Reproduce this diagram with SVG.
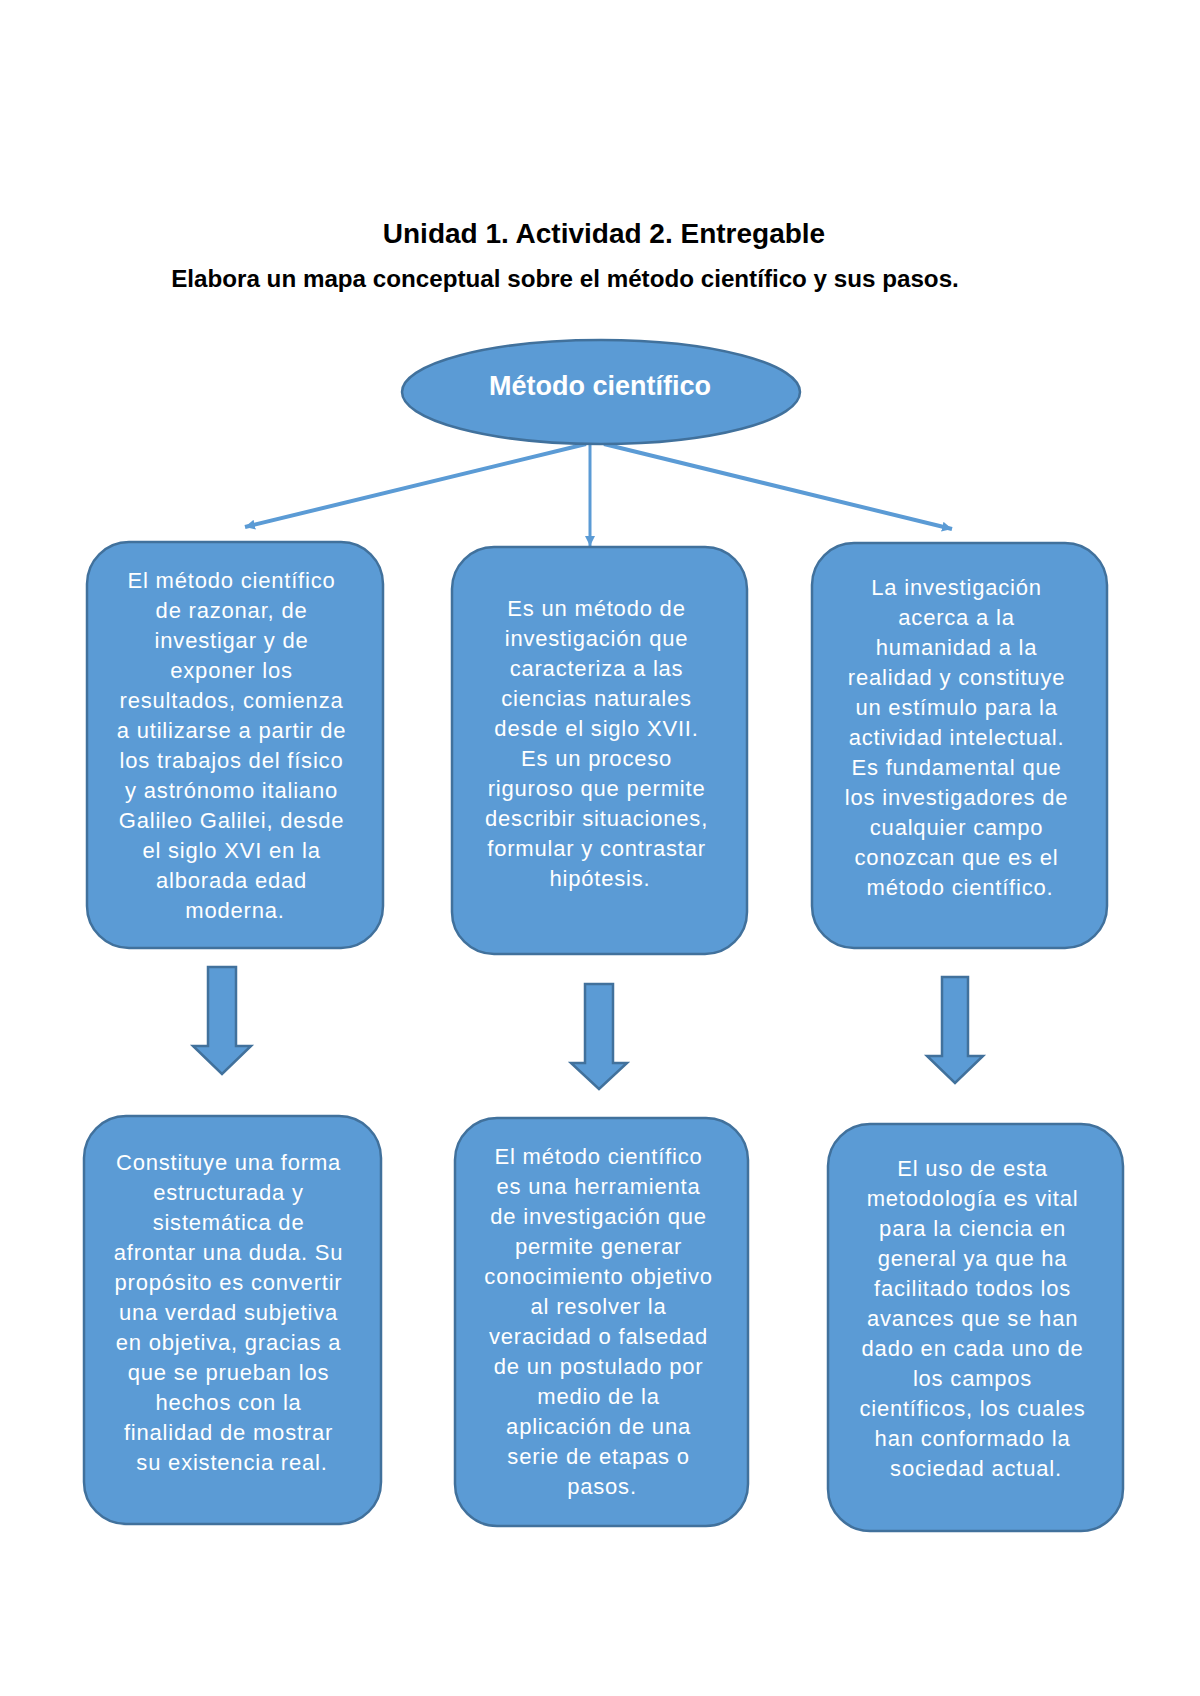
<svg xmlns="http://www.w3.org/2000/svg" width="1200" height="1696" viewBox="0 0 1200 1696">
<style>
.title{font-family:"Liberation Sans",Arial,sans-serif;font-weight:bold;fill:#000;text-anchor:middle}
.shape{fill:#5B9BD5;stroke:#41719C;stroke-width:2.5}
.txt{font-family:"Liberation Sans",Arial,sans-serif;font-size:22px;letter-spacing:0.8px;fill:#fff;text-anchor:middle}
.conn{stroke:#5B9BD5;fill:none}
</style>
<defs>
<marker id="ah" markerWidth="12" markerHeight="12" refX="10" refY="6" orient="auto" markerUnits="userSpaceOnUse">
<path d="M0,1 L10,6 L0,11 Z" fill="#5B9BD5"/>
</marker>
</defs>
<rect width="1200" height="1696" fill="#fff"/>
<g id="header">
<text class="title" x="604" y="243" font-size="28">Unidad 1. Actividad 2. Entregable</text>
<text class="title" x="565" y="287" font-size="24.2">Elabora un mapa conceptual sobre el método científico y sus pasos.</text>
</g>
<g id="connectors">
<line class="conn" x1="586" y1="444" x2="245" y2="527" stroke-width="4" marker-end="url(#ah)"/>
<line class="conn" x1="590" y1="444" x2="590" y2="546" stroke-width="3" marker-end="url(#ah)"/>
<line class="conn" x1="604" y1="444" x2="952" y2="529" stroke-width="4" marker-end="url(#ah)"/>
<path id="arrow1" class="shape" d="M208,967 H236 V1046 H251 L222,1074 L193,1046 H208 Z"/>
<path id="arrow2" class="shape" d="M585,984 H613 V1063 H627 L599,1089 L571,1063 H585 Z"/>
<path id="arrow3" class="shape" d="M942,977 H968 V1056 H983 L955,1083 L927,1056 H942 Z"/>
</g>
<g id="root">
<ellipse class="shape" cx="601" cy="392" rx="199" ry="52"/>
<text class="title" x="600" y="395" font-size="27" style="fill:#fff">Método científico</text>
</g>
<g id="box1">
<rect class="shape" x="87" y="542" width="296" height="406" rx="42" ry="42"/>
<text class="txt">
<tspan x="235" y="588">El método científico</tspan>
<tspan x="235" y="618">de razonar, de</tspan>
<tspan x="235" y="648">investigar y de</tspan>
<tspan x="235" y="678">exponer los</tspan>
<tspan x="235" y="708">resultados, comienza</tspan>
<tspan x="235" y="738">a utilizarse a partir de</tspan>
<tspan x="235" y="768">los trabajos del físico</tspan>
<tspan x="235" y="798">y astrónomo italiano</tspan>
<tspan x="235" y="828">Galileo Galilei, desde</tspan>
<tspan x="235" y="858">el siglo XVI en la</tspan>
<tspan x="235" y="888">alborada edad</tspan>
<tspan x="235" y="918">moderna.</tspan>
</text>
</g>
<g id="box2">
<rect class="shape" x="452" y="547" width="295" height="407" rx="42" ry="42"/>
<text class="txt">
<tspan x="600" y="616">Es un método de</tspan>
<tspan x="600" y="646">investigación que</tspan>
<tspan x="600" y="676">caracteriza a las</tspan>
<tspan x="600" y="706">ciencias naturales</tspan>
<tspan x="600" y="736">desde el siglo XVII.</tspan>
<tspan x="600" y="766">Es un proceso</tspan>
<tspan x="600" y="796">riguroso que permite</tspan>
<tspan x="600" y="826">describir situaciones,</tspan>
<tspan x="600" y="856">formular y contrastar</tspan>
<tspan x="600" y="886">hipótesis.</tspan>
</text>
</g>
<g id="box3">
<rect class="shape" x="812" y="543" width="295" height="405" rx="42" ry="42"/>
<text class="txt">
<tspan x="960" y="595">La investigación</tspan>
<tspan x="960" y="625">acerca a la</tspan>
<tspan x="960" y="655">humanidad a la</tspan>
<tspan x="960" y="685">realidad y constituye</tspan>
<tspan x="960" y="715">un estímulo para la</tspan>
<tspan x="960" y="745">actividad intelectual.</tspan>
<tspan x="960" y="775">Es fundamental que</tspan>
<tspan x="960" y="805">los investigadores de</tspan>
<tspan x="960" y="835">cualquier campo</tspan>
<tspan x="960" y="865">conozcan que es el</tspan>
<tspan x="960" y="895">método científico.</tspan>
</text>
</g>
<g id="box4">
<rect class="shape" x="84" y="1116" width="297" height="408" rx="42" ry="42"/>
<text class="txt">
<tspan x="232" y="1170">Constituye una forma</tspan>
<tspan x="232" y="1200">estructurada y</tspan>
<tspan x="232" y="1230">sistemática de</tspan>
<tspan x="232" y="1260">afrontar una duda. Su</tspan>
<tspan x="232" y="1290">propósito es convertir</tspan>
<tspan x="232" y="1320">una verdad subjetiva</tspan>
<tspan x="232" y="1350">en objetiva, gracias a</tspan>
<tspan x="232" y="1380">que se prueban los</tspan>
<tspan x="232" y="1410">hechos con la</tspan>
<tspan x="232" y="1440">finalidad de mostrar</tspan>
<tspan x="232" y="1470">su existencia real.</tspan>
</text>
</g>
<g id="box5">
<rect class="shape" x="455" y="1118" width="293" height="408" rx="42" ry="42"/>
<text class="txt">
<tspan x="602" y="1164">El método científico</tspan>
<tspan x="602" y="1194">es una herramienta</tspan>
<tspan x="602" y="1224">de investigación que</tspan>
<tspan x="602" y="1254">permite generar</tspan>
<tspan x="602" y="1284">conocimiento objetivo</tspan>
<tspan x="602" y="1314">al resolver la</tspan>
<tspan x="602" y="1344">veracidad o falsedad</tspan>
<tspan x="602" y="1374">de un postulado por</tspan>
<tspan x="602" y="1404">medio de la</tspan>
<tspan x="602" y="1434">aplicación de una</tspan>
<tspan x="602" y="1464">serie de etapas o</tspan>
<tspan x="602" y="1494">pasos.</tspan>
</text>
</g>
<g id="box6">
<rect class="shape" x="828" y="1124" width="295" height="407" rx="42" ry="42"/>
<text class="txt">
<tspan x="976" y="1176">El uso de esta</tspan>
<tspan x="976" y="1206">metodología es vital</tspan>
<tspan x="976" y="1236">para la ciencia en</tspan>
<tspan x="976" y="1266">general ya que ha</tspan>
<tspan x="976" y="1296">facilitado todos los</tspan>
<tspan x="976" y="1326">avances que se han</tspan>
<tspan x="976" y="1356">dado en cada uno de</tspan>
<tspan x="976" y="1386">los campos</tspan>
<tspan x="976" y="1416">científicos, los cuales</tspan>
<tspan x="976" y="1446">han conformado la</tspan>
<tspan x="976" y="1476">sociedad actual.</tspan>
</text>
</g>
</svg>
